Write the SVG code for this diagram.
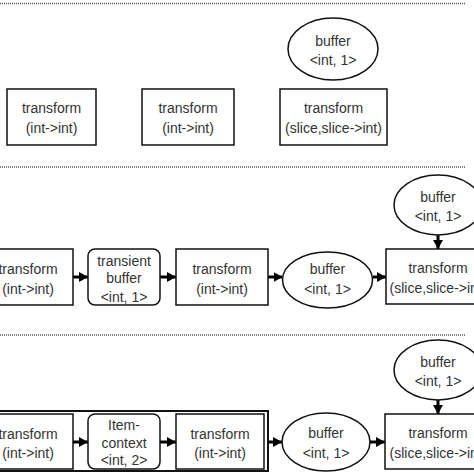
<svg xmlns="http://www.w3.org/2000/svg" width="474" height="474" viewBox="0 0 474 474">
<defs>
<style>
.box{fill:#fff;stroke:#111;stroke-width:1.5}
.cont{fill:none;stroke:#111;stroke-width:2}
.t{font-family:"Liberation Sans",Arial,sans-serif;font-size:14px;fill:#333;text-anchor:middle}
.sep{stroke:#555;stroke-width:1.5;stroke-dasharray:1 1;fill:none}
.c{stroke:#000;stroke-width:3;fill:none;marker-end:url(#ah)}
</style>
<marker id="ah" markerUnits="userSpaceOnUse" markerWidth="11" markerHeight="11" refX="9" refY="5.5" orient="auto">
<path d="M0,0.5 L9,5.5 L0,10.5 Z" fill="#000"/>
</marker>
</defs>
<rect width="474" height="474" fill="#fff"/>
<g id="separators">
<line class="sep" x1="0" y1="3.5" x2="466" y2="3.5"/>
<line class="sep" x1="0" y1="167" x2="466" y2="167"/>
<line class="sep" x1="0" y1="335" x2="466" y2="335"/>
</g>
<g id="connectors">
<line class="c" x1="73" y1="277" x2="88" y2="277"/>
<line class="c" x1="160" y1="277" x2="176" y2="277"/>
<line class="c" x1="268" y1="277" x2="282.5" y2="277"/>
<line class="c" x1="372.5" y1="277" x2="386" y2="277"/>
<line class="c" x1="438" y1="235" x2="438" y2="249"/>
<line class="c" x1="73" y1="442" x2="88" y2="442"/>
<line class="c" x1="160" y1="442" x2="176" y2="442"/>
<line class="c" x1="268" y1="442" x2="282" y2="442"/>
<line class="c" x1="370" y1="442" x2="385" y2="442"/>
<line class="c" x1="438" y1="400" x2="438" y2="414"/>
</g>
<g id="r1-transform1"><rect class="box" x="7" y="89" width="89" height="56"/><text class="t" x="51.5" y="113">transform</text><text class="t" x="51.5" y="133">(int-&gt;int)</text></g>
<g id="r1-transform2"><rect class="box" x="142" y="89" width="92" height="56"/><text class="t" x="188" y="113">transform</text><text class="t" x="188" y="133">(int-&gt;int)</text></g>
<g id="r1-transform3"><rect class="box" x="280" y="89" width="107" height="56"/><text class="t" x="333.5" y="113">transform</text><text class="t" x="333.5" y="133">(slice,slice-&gt;int)</text></g>
<g id="r1-buffer"><ellipse class="box" cx="333" cy="49" rx="45" ry="31"/><text class="t" x="333" y="46">buffer</text><text class="t" x="333" y="65">&lt;int, 1&gt;</text></g>

<g id="r2-transform1"><rect class="box" x="-17" y="249" width="90" height="56"/><text class="t" x="28" y="274">transform</text><text class="t" x="28" y="293.5">(int-&gt;int)</text></g>
<g id="r2-transient"><rect class="box" x="88" y="249" width="72" height="56" rx="7"/><text class="t" x="124" y="265.5">transient</text><text class="t" x="124" y="283">buffer</text><text class="t" x="124" y="301.5">&lt;int, 1&gt;</text></g>
<g id="r2-transform2"><rect class="box" x="176" y="249" width="92" height="56"/><text class="t" x="222" y="274">transform</text><text class="t" x="222" y="293.5">(int-&gt;int)</text></g>
<g id="r2-buffer"><ellipse class="box" cx="327.5" cy="280" rx="45" ry="28"/><text class="t" x="327.5" y="274">buffer</text><text class="t" x="327.5" y="293.5">&lt;int, 1&gt;</text></g>
<g id="r2-transform3"><rect class="box" x="386" y="249" width="104" height="55"/><text class="t" x="438" y="273">transform</text><text class="t" x="438" y="293">(slice,slice-&gt;int)</text></g>
<g id="r2-buffer-top"><ellipse class="box" cx="438" cy="205" rx="44" ry="30"/><text class="t" x="438" y="201.5">buffer</text><text class="t" x="438" y="221">&lt;int, 1&gt;</text></g>

<g id="r3-container"><rect class="cont" x="-5" y="411" width="273" height="60"/></g>
<g id="r3-transform1"><rect class="box" x="-17" y="414" width="90" height="55"/><text class="t" x="28" y="438.5">transform</text><text class="t" x="28" y="457.5">(int-&gt;int)</text></g>
<g id="r3-itemcontext"><rect class="box" x="88" y="414" width="72" height="55" rx="7"/><text class="t" x="124" y="430">Item-</text><text class="t" x="124" y="447.5">context</text><text class="t" x="124" y="465">&lt;int, 2&gt;</text></g>
<g id="r3-transform2"><rect class="box" x="176" y="414" width="88" height="55"/><text class="t" x="220" y="438.5">transform</text><text class="t" x="220" y="457.5">(int-&gt;int)</text></g>
<g id="r3-buffer"><ellipse class="box" cx="326" cy="442" rx="44" ry="29"/><text class="t" x="326" y="438">buffer</text><text class="t" x="326" y="457.5">&lt;int, 1&gt;</text></g>
<g id="r3-transform3"><rect class="box" x="385" y="414" width="105" height="55"/><text class="t" x="438" y="438">transform</text><text class="t" x="438" y="457.5">(slice,slice-&gt;int)</text></g>
<g id="r3-buffer-top"><ellipse class="box" cx="438" cy="370" rx="44" ry="30"/><text class="t" x="438" y="367">buffer</text><text class="t" x="438" y="386">&lt;int, 1&gt;</text></g>
</svg>
